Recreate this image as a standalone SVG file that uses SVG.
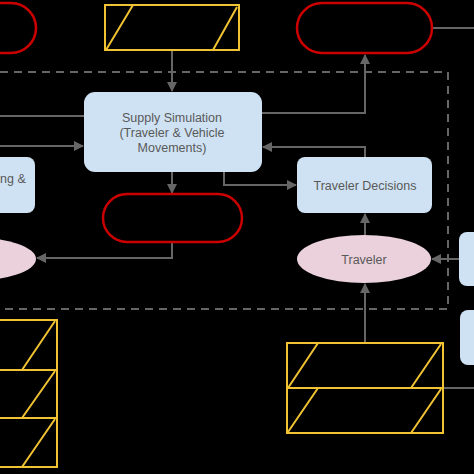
<svg xmlns="http://www.w3.org/2000/svg" width="474" height="474" viewBox="0 0 474 474">
<defs>
<style>
.box{fill:#cfe2f3;stroke:none}
.ell{fill:#ead1dc;stroke:none}
.term{fill:none;stroke:#cc0000;stroke-width:2.5}
.data{fill:none;stroke:#f1c232;stroke-width:2}
.ln{fill:none;stroke:#666666;stroke-width:2}
.dash{fill:none;stroke:#666666;stroke-width:2;stroke-dasharray:8,6}
.t{font-family:"Liberation Sans",Arial,sans-serif;font-size:12.5px;fill:#595959;text-anchor:middle}
</style>
<marker id="ah" viewBox="0 0 10 10" refX="9" refY="5" markerWidth="5" markerHeight="5" orient="auto" markerUnits="strokeWidth">
<path d="M0,0 L10,5 L0,10 z" fill="#666666"/>
</marker>
</defs>
<rect width="474" height="474" fill="#000000"/>
<g id="boundary">
<path class="dash" d="M0,72 H448 V309 H0"/>
</g>
<g id="connectors">
<path class="ln" d="M172,50 V91" marker-end="url(#ah)"/>
<path class="ln" d="M262,113 H365 V55" marker-end="url(#ah)"/>
<path class="ln" d="M432,28 H474"/>
<path class="ln" d="M0,116 H84"/>
<path class="ln" d="M0,146 H83" marker-end="url(#ah)"/>
<path class="ln" d="M365,157 V147 H263" marker-end="url(#ah)"/>
<path class="ln" d="M172,172 V193" marker-end="url(#ah)"/>
<path class="ln" d="M224,172 V185 H296" marker-end="url(#ah)"/>
<path class="ln" d="M172,242 V258 H37" marker-end="url(#ah)"/>
<path class="ln" d="M365,235 V214" marker-end="url(#ah)"/>
<path class="ln" d="M459,259 H432" marker-end="url(#ah)"/>
<path class="ln" d="M365,343 V284" marker-end="url(#ah)"/>
<path class="ln" d="M443,388 H474"/>
</g>
<g id="term-left"><rect class="term" x="-60" y="3" width="96" height="50" rx="25"/></g>
<g id="data-top">
<rect class="data" x="105" y="5" width="134" height="45"/>
<path class="data" d="M133,5 L106,50 M237,7 L213,50"/>
</g>
<g id="term-top-right"><rect class="term" x="297" y="3" width="135" height="50" rx="25"/></g>
<g id="supply-simulation">
<rect class="box" x="84" y="92" width="178" height="80" rx="11"/>
<text class="t" x="172" y="122">Supply Simulation</text>
<text class="t" x="172" y="137">(Traveler &amp; Vehicle</text>
<text class="t" x="172" y="152">Movements)</text>
</g>
<g id="left-box">
<rect class="box" x="-40" y="157" width="75" height="56" rx="8"/>
<text class="t" x="0" y="183" style="text-anchor:start">ng &amp;</text>
</g>
<g id="traveler-decisions">
<rect class="box" x="297" y="157" width="135" height="56" rx="8"/>
<text class="t" x="365" y="190">Traveler Decisions</text>
</g>
<g id="term-middle"><rect class="term" x="103" y="194" width="139" height="48" rx="24"/></g>
<g id="ellipse-left"><ellipse class="ell" cx="-30" cy="259" rx="66" ry="22"/></g>
<g id="traveler">
<ellipse class="ell" cx="364" cy="259" rx="67" ry="24"/>
<text class="t" x="364" y="264">Traveler</text>
</g>
<g id="right-box-1"><rect class="box" x="459" y="232" width="60" height="54" rx="8"/></g>
<g id="right-box-2"><rect class="box" x="460" y="310" width="60" height="55" rx="8"/></g>
<g id="data-left">
<rect class="data" x="-40" y="320" width="97" height="147"/>
<path class="data" d="M-40,370 H57 M-40,418 H57 M55,321 L22,370 M55,371 L22,418 M55,419 L22,467"/>
</g>
<g id="data-bottom">
<rect class="data" x="287" y="343" width="156" height="90"/>
<path class="data" d="M287,388 H443 M318,343 L288,388 M441,344 L411,388 M318,388 L288,432 M441,389 L411,433"/>
</g>
</svg>
